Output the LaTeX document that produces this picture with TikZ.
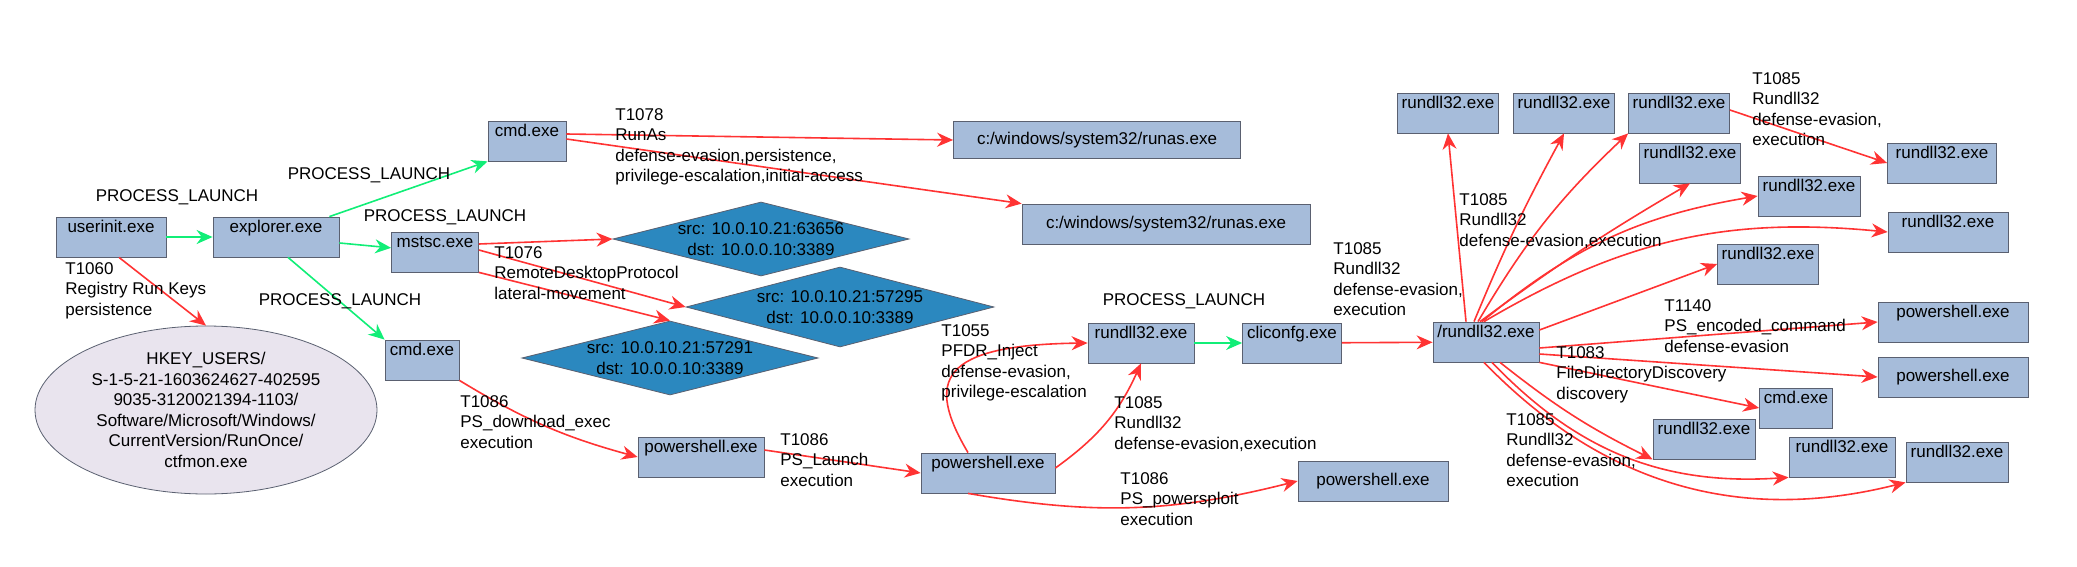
\documentclass[tikz,border=0pt]{standalone}
\usepackage{fontspec}
\setmainfont{Liberation Sans}
\usetikzlibrary{arrows.meta,shapes.geometric}
\definecolor{boxfill}{HTML}{A6BCDA}
\definecolor{boxline}{HTML}{5A6070}
\definecolor{dia}{HTML}{2B88BF}
\definecolor{ell}{HTML}{E9E4EE}
\definecolor{redE}{HTML}{FF3333}
\definecolor{grnE}{HTML}{11EE77}
\begin{document}
\begin{tikzpicture}[x=0.5pt,y=-0.5pt,
  font=\fontsize{8.5pt}{10.25pt}\selectfont,
  box/.style={draw=boxline,fill=boxfill,rectangle,inner sep=1pt,text height=6.5pt,text depth=11pt,minimum height=20pt},
  cbox/.style={draw=boxline,fill=boxfill,rectangle,inner sep=1pt,minimum height=20pt},
  dmd/.style={draw=boxline,fill=dia,diamond,aspect=4,inner sep=0pt,align=center},
  lbl/.style={anchor=north west,align=left,inner sep=0pt},
  r/.style={draw=redE,line width=0.8pt,-{Stealth[length=8pt,width=7pt]}},
  g/.style={draw=grnE,line width=0.8pt,-{Stealth[length=8pt,width=7pt]}}]
\useasboundingbox (0,0) rectangle (2077,567);
% left part
\node[box,minimum width=55pt] (ui) at (111,237) {userinit.exe};
\node[box,minimum width=63pt] (ex) at (276,237) {explorer.exe};
\node[box,minimum width=39pt] (cmdt) at (527,141) {cmd.exe};
\node[box,minimum width=43.5pt] (ms) at (435,252) {mstsc.exe};
\node[box,minimum width=37pt] (cmdm) at (422,360) {cmd.exe};
\node[draw=boxline,fill=ell,ellipse,minimum width=171pt,minimum height=84pt,align=center,inner sep=0pt] (reg) at (206,410)
 {HKEY\_USERS/\\S-1-5-21-1603624627-402595\\9035-3120021394-1103/\\Software/Microsoft/Windows/\\CurrentVersion/RunOnce/\\ctfmon.exe};
\node[cbox,minimum width=143.5pt,minimum height=18.5pt] (ra1) at (1097,140) {c:/windows/system32/runas.exe};
\node[cbox,minimum width=144pt] (ra2) at (1166,224) {c:/windows/system32/runas.exe};
\node[dmd,minimum width=148pt,minimum height=37pt] (d1) at (761,239) {src: 10.0.10.21:63656\\dst: 10.0.0.10:3389};
\node[dmd,minimum width=154pt,minimum height=40pt] (d2) at (840,307) {src: 10.0.10.21:57295\\dst: 10.0.0.10:3389};
\node[dmd,minimum width=143pt,minimum height=37pt] (d3) at (670,358) {src: 10.0.10.21:57291\\dst: 10.0.0.10:3389};
\node[box,minimum width=63pt] (ps1) at (701,457) {powershell.exe};
\node[box,minimum width=67pt] (ps2) at (988,473) {powershell.exe};
\node[cbox,minimum width=75pt] (ps3) at (1373,481) {powershell.exe};
\node[box,minimum width=53pt] (rm) at (1141,343) {rundll32.exe};
\node[box,minimum width=49.5pt] (cc) at (1292,343) {cliconfg.exe};
% right part
\node[box,minimum width=53pt] (hub) at (1486,342) {/rundll32.exe};
\node[box,minimum width=50.5pt] (r1) at (1448,113) {rundll32.exe};
\node[box,minimum width=50.5pt] (r2) at (1564,113) {rundll32.exe};
\node[box,minimum width=50.5pt] (r3) at (1679,113) {rundll32.exe};
\node[box,minimum width=50.5pt] (r4) at (1690,163) {rundll32.exe};
\node[box,minimum width=54.5pt] (r5) at (1942,163) {rundll32.exe};
\node[box,minimum width=51pt] (r6) at (1809,196) {rundll32.exe};
\node[box,minimum width=60pt] (r7) at (1948,232) {rundll32.exe};
\node[box,minimum width=50.5pt] (r8) at (1768,264) {rundll32.exe};
\node[box,minimum width=75pt] (pa) at (1953,322) {powershell.exe};
\node[cbox,minimum width=75pt] (pb) at (1953,377) {powershell.exe};
\node[box,minimum width=36.5pt] (cm) at (1796,408) {cmd.exe};
\node[box,minimum width=51pt] (r9) at (1704,439) {rundll32.exe};
\node[box,minimum width=53pt] (r10) at (1842,457) {rundll32.exe};
\node[box,minimum width=51pt] (r11) at (1957,462) {rundll32.exe};
% green edges
\draw[g] (ui) -- (ex);
\draw[g] (ex.north east) ++(-10,0) coordinate (exa) (exa) -- (cmdt.south west);
\draw[g] (ex) -- (ms);
\draw[g] (ex.south) ++(12,0) coordinate (exb) (exb) -- (cmdm.north west);
\draw[g] (rm) -- (cc);
% red edges
\draw[r] (ui.south) ++(8,0) coordinate (uib) (uib) -- (reg.north) ;
\draw[r] (cmdt.east) ++(0,-7) coordinate (ca) (ca) -- (ra1.west);
\draw[r] (cmdt.east) ++(0,-2) coordinate (cb) (cb) -- (ra2.north west);
\draw[r] (ms.east) ++(0,-8) coordinate (ma) (ma) -- (d1.west);
\draw[r] (ms.east) ++(0,-2) coordinate (mb) (mb) -- (d2.west);
\draw[r] (ms.south east) -- (d3.north);
\draw[r] (cmdm.south east) to[bend right=8] (ps1.west);
\draw[r] (ps1.east) ++(0,-7) coordinate (pa1) (pa1) -- (ps2.west);
\draw[r] (ps2.north) ++(-20,0) coordinate (p2a) (p2a) .. controls (925,380) and (940,345) .. (rm.west);
\draw[r] (ps2.east) ++(0,-5) coordinate (p2b) (p2b) to[bend right=15] (rm.south);
\draw[r] (ps2.south) ++(-20,0) coordinate (p2c) (p2c) to[bend right=12] (ps3.west);
\draw[r] (cc) -- (hub);
\draw[r] (hub.north) ++(-20,0) coordinate (h1) (h1) -- (r1.south);
\draw[r] (hub.north) ++(-12,0) coordinate (h2) (h2) to[bend left=3] (r2.south);
\draw[r] (hub.north) ++(-8,0) coordinate (h3) (h3) to[bend left=8] (r3.south west);
\draw[r] (hub.north) ++(-6,0) coordinate (h4) (h4) to[bend left=3] (r4.south);
\draw[r] (hub.north) ++(-4,0) coordinate (h6) (h6) to[bend left=15] (r6.west);
\draw[r] (hub.north) ++(-2,0) coordinate (h7) (h7) to[bend left=18] (r7.west);
\draw[r] (r3.east) ++(0,-3) coordinate (r3e) (r3e) -- (r5.west);
\draw[r] (hub.east) ++(0,-12) coordinate (h8) (h8) -- (r8.west);
\draw[r] (hub.east) ++(0,6) coordinate (h9) (h9) -- (pa.west);
\draw[r] (hub.east) ++(0,12) coordinate (h10) (h10) -- (pb.west);
\draw[r] (hub.south east) -- (cm.west);
\draw[r] (hub.south) ++(14,0) coordinate (h11) (h11) to[bend right=6] (r9.south west);
\draw[r] (hub.south) ++(6,0) coordinate (h12) (h12) to[bend right=25] (r10.south west);
\draw[r] (hub.south) ++(-2,0) coordinate (h13) (h13) to[bend right=30] (r11.south west);
% labels
\node at (177,197) {PROCESS\_LAUNCH};
\node at (369,175) {PROCESS\_LAUNCH};
\node at (445,217) {PROCESS\_LAUNCH};
\node at (340,301) {PROCESS\_LAUNCH};
\node at (1184,301) {PROCESS\_LAUNCH};
\node[lbl] (l1) at (65,262) {T1060\\Registry Run Keys\\persistence};
\node[lbl] (l2) at (615,108) {T1078\\RunAs\\defense-evasion,persistence,\\privilege-escalation,initial-access};
\node[lbl] (l3) at (494,246) {T1076\\RemoteDesktopProtocol\\lateral-movement};
\node[lbl] (l4) at (460,395) {T1086\\PS\_download\_exec\\execution};
\node[lbl] (l5) at (780,433) {T1086\\PS\_Launch\\execution};
\node[lbl] (l6) at (941,324) {T1055\\PFDR\_Inject\\defense-evasion,\\privilege-escalation};
\node[lbl] (l7) at (1114,396) {T1085\\Rundll32\\defense-evasion,execution};
\node[lbl] (l8) at (1120,472) {T1086\\PS\_powersploit\\execution};
\node[lbl] (l9) at (1333,242) {T1085\\Rundll32\\defense-evasion,\\execution};
\node[lbl] (l10) at (1752,72) {T1085\\Rundll32\\defense-evasion,\\execution};
\node[lbl] (l11) at (1459,193) {T1085\\Rundll32\\defense-evasion,execution};
\node[lbl] (l12) at (1664,299) {T1140\\PS\_encoded\_command\\defense-evasion};
\node[lbl] (l13) at (1556,346) {T1083\\FileDirectoryDiscovery\\discovery};
\node[lbl] (l14) at (1506,413) {T1085\\Rundll32\\defense-evasion,\\execution};
\end{tikzpicture}
\end{document}
